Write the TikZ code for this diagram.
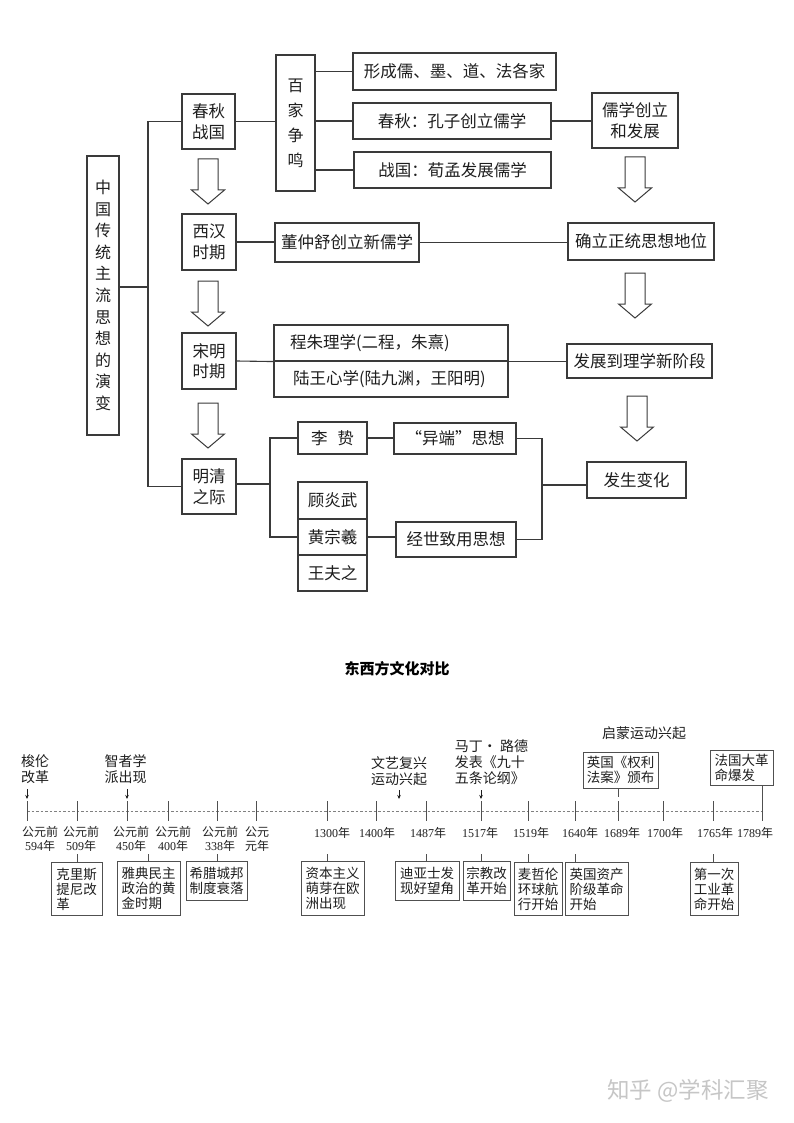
\documentclass[tikz,border=0pt]{standalone}
\usepackage{fontspec}
\setmainfont{Noto Sans CJK SC}
\newfontfamily\lat{Liberation Serif}
\usetikzlibrary{arrows.meta}
\definecolor{lc}{HTML}{3A3A3A}
\definecolor{tc}{HTML}{1E1E1E}
\definecolor{tl}{HTML}{505050}
\newcommand\yr[1]{{\lat #1}年}
\begin{document}
\begin{tikzpicture}[x=1pt,y=-1pt,
  box/.style={draw=lc, line width=1.1pt, text=tc, inner sep=0pt, align=center, font=\fontsize{16.5}{20.5}\selectfont},
  vbox/.style={box, font=\fontsize{16}{21.6}\selectfont},
  link/.style={draw=lc, line width=1.1pt},
  harrow/.pic={\draw[line width=1pt, draw=lc, fill=white] (-10,0) -- (-10,31) -- (-16.5,31) -- (0,45) -- (16.5,31) -- (10,31) -- (10,0) -- cycle;},
  tbox/.style={draw=tl, line width=0.9pt, text=tc, inner sep=0pt, align=left, anchor=north, font=\fontsize{13.5}{15}\selectfont},
  ylab/.style={text=tc, align=center, inner sep=0pt, font=\fontsize{12}{14}\selectfont},
  alab/.style={text=tc, align=left, inner sep=0pt, font=\fontsize{14}{16}\selectfont},
  tick/.style={draw=tl, line width=0.9pt},
  tlink/.style={draw=tl, line width=0.8pt},
  sarrow/.style={draw=tc, line width=0.8pt, -{Stealth[length=4pt,width=3.5pt]}},
  axis/.style={draw=gray, line width=1pt, dash pattern=on 2.5pt off 2pt}]
\useasboundingbox (0,0) rectangle (794,1123);
\fill[white] (0,0) rectangle (794,1123);

% ---------- upper chart ----------
\node[vbox, minimum width=32, minimum height=279] (main) at (103,295.5) {中\\国\\传\\统\\主\\流\\思\\想\\的\\演\\变};
\node[box, minimum width=53, minimum height=55] (cq) at (208.5,121.5) {春秋\\战国};
\node[box, minimum width=54, minimum height=56] (xh) at (209,242) {西汉\\时期};
\node[box, minimum width=54, minimum height=56] (sm) at (209,361) {宋明\\时期};
\node[box, minimum width=54, minimum height=55] (mq) at (209,486.5) {明清\\之际};
\node[box, font=\fontsize{16}{25}\selectfont, minimum width=39, minimum height=136] (bj) at (295.5,123) {百\\家\\争\\鸣};
\node[box, minimum width=203, minimum height=37] (b1) at (454.5,71.5) {形成儒、墨、道、法各家};
\node[box, minimum width=198, minimum height=36] (b2) at (452,121) {春秋：孔子创立儒学};
\node[box, minimum width=197, minimum height=36] (b3) at (452.5,170) {战国：荀孟发展儒学};
\node[box, minimum width=86, minimum height=55] (rx) at (635,120.5) {儒学创立\\和发展};
\node[box, minimum width=144, minimum height=39] (dz) at (347,242.5) {董仲舒创立新儒学};
\node[box, minimum width=146, minimum height=37] (ql) at (641,241.5) {确立正统思想地位};
\node[box, minimum width=234, minimum height=36, text width=202, align=left] (cz) at (391,343) {程朱理学(二程，朱熹)};
\node[box, minimum width=234, minimum height=36, text width=196, align=left] (lw) at (391,379) {陆王心学(陆九渊，王阳明)};
\node[box, minimum width=145, minimum height=34] (fz) at (639.5,361) {发展到理学新阶段};
\node[box, minimum width=99, minimum height=36] (fs) at (636.5,480) {发生变化};
\node[box, minimum width=122, minimum height=31] (yd) at (455,438.5) {“异端”思想};
\node[box, minimum width=120, minimum height=35] (js) at (456,539.5) {经世致用思想};
\node[box, minimum width=69, minimum height=32] (lz) at (332.5,438) {李\hspace{0.6em}贽};
\node[box, minimum width=69, minimum height=37] (gy) at (332.5,500.5) {顾炎武};
\node[box, minimum width=69, minimum height=36] (hz) at (332.5,537) {黄宗羲};
\node[box, minimum width=69, minimum height=36] (wf) at (332.5,573) {王夫之};

\coordinate (j1) at (148,287);
\draw[link] (main.east |- j1) -- (j1);
\draw[link] (cq.west) -| (j1) |- (mq.west);
\draw[link] (cq.east) -- (cq.east -| bj.west);
\draw[link] (b1.west -| bj.east) -- (b1.west);
\draw[link] (b2.west -| bj.east) -- (b2.west);
\draw[link] (b3.west -| bj.east) -- (b3.west);
\draw[link] (b2.east) -- (b2.east -| rx.west);
\draw[link] (xh.east) -- (xh.east -| dz.west);
\draw[link] (dz.east) -- (dz.east -| ql.west);
\draw[link] (sm.east) -- (cz.south west);
\draw[link] (cz.south east) -- (cz.south east -| fz.west);
\coordinate (j2) at (270,484);
\draw[link] (mq.east |- j2) -- (j2);
\draw[link] (lz.west) -| (j2) |- (hz.west);
\draw[link] (lz.east) -- (lz.east -| yd.west);
\draw[link] (hz.east) -- (hz.east -| js.west);
\coordinate (j3) at (542,485);
\draw[link] (yd.east) -| (j3) |- (js.east);
\draw[link] (j3) -- (j3 -| fs.west);

\pic at (208,159) {harrow};
\pic at (208,281) {harrow};
\pic at (208,403) {harrow};
\pic at (635,157) {harrow};
\pic at (635,273) {harrow};
\pic at (637,396) {harrow};

% ---------- timeline ----------
\node[text=black, inner sep=0pt, font=\fontsize{15}{15}\selectfont\bfseries] (title) at (397,669) {东西方文化对比};

\foreach \n/\x in {594/27,509/77,450/127,400/168,338/217,0/256,1300/327,1400/376,1487/426,1517/481,1519/528,1640/575,1689/618,1700/663,1765/713,1789/762}
  \coordinate (t\n) at (\x,811);
\draw[axis] (t594) -- (t1789);
\foreach \n in {594,509,450,400,338,0,1300,1400,1487,1517,1519,1640,1689,1700,1765,1789}
  \draw[tick] ([yshift=10pt]t\n) -- ([yshift=-10pt]t\n);

\node[ylab] (y594) at (40,839) {公元前\\\yr{594}};
\node[ylab] (y509) at (81,839) {公元前\\\yr{509}};
\node[ylab] (y450) at (131,839) {公元前\\\yr{450}};
\node[ylab] (y400) at (173,839) {公元前\\\yr{400}};
\node[ylab] (y338) at (220,839) {公元前\\\yr{338}};
\node[ylab] (y0) at (257,839) {公元\\元年};
\node[ylab] (y1300) at (332,833) {\yr{1300}};
\node[ylab] (y1400) at (377,833) {\yr{1400}};
\node[ylab] (y1487) at (428,833) {\yr{1487}};
\node[ylab] (y1517) at (480,833) {\yr{1517}};
\node[ylab] (y1519) at (531,833) {\yr{1519}};
\node[ylab] (y1640) at (580,833) {\yr{1640}};
\node[ylab] (y1689) at (622,833) {\yr{1689}};
\node[ylab] (y1700) at (665,833) {\yr{1700}};
\node[ylab] (y1765) at (715,833) {\yr{1765}};
\node[ylab] (y1789) at (755,833) {\yr{1789}};

% boxes below
\node[tbox, minimum width=51, minimum height=53] (e509) at (76.5,862) {克里斯\\提尼改\\革};
\node[tbox, minimum width=63, minimum height=54] (e450) at (148.5,861) {雅典民主\\政治的黄\\金时期};
\node[tbox, minimum width=61, minimum height=39] (e338) at (216.5,861) {希腊城邦\\制度衰落};
\node[tbox, minimum width=63, minimum height=54] (e1300) at (332.5,861) {资本主义\\萌芽在欧\\洲出现};
\node[tbox, minimum width=64, minimum height=39] (e1487) at (427,861) {迪亚士发\\现好望角};
\node[tbox, minimum width=47, minimum height=39] (e1517) at (486.5,861) {宗教改\\革开始};
\node[tbox, minimum width=48, minimum height=53] (e1519) at (538,862) {麦哲伦\\环球航\\行开始};
\node[tbox, minimum width=63, minimum height=53] (e1640) at (596.5,862) {英国资产\\阶级革命\\开始};
\node[tbox, minimum width=48, minimum height=53] (e1765) at (714,862) {第一次\\工业革\\命开始};

\draw[tlink] ([yshift=-43pt]t509) -- (t509 |- e509.north);
\draw[tlink] (e450.north) -- ++(0,-7);
\draw[tlink] ([yshift=-43pt]t338) -- (t338 |- e338.north);
\draw[tlink] ([yshift=-43pt]t1300) -- (t1300 |- e1300.north);
\draw[tlink] ([yshift=-43pt]t1487) -- (t1487 |- e1487.north);
\draw[tlink] ([yshift=-43pt]t1517) -- (t1517 |- e1517.north);
\draw[tlink] ([yshift=-43pt]t1519) -- (t1519 |- e1519.north);
\draw[tlink] ([yshift=-43pt]t1640) -- (t1640 |- e1640.north);
\draw[tlink] ([yshift=-43pt]t1765) -- (t1765 |- e1765.north);

% boxes above
\node[tbox, anchor=center, minimum width=75, minimum height=36] (e1689) at (620.5,770) {英国《权利\\法案》颁布};
\node[tbox, anchor=center, minimum width=63, minimum height=35] (e1789) at (741.5,767.5) {法国大革\\命爆发};
\draw[tlink] (t1689 |- e1689.south) -- ([yshift=14pt]t1689);
\draw[tlink] (t1789 |- e1789.south) -- ([yshift=10pt]t1789);

% labels above
\node[alab] (l594) at (35,769.5) {梭伦\\改革};
\node[alab] (l450) at (125.5,769.5) {智者学\\派出现};
\node[alab] (lren) at (399,771) {文艺复兴\\运动兴起};
\node[alab] (l1517) at (491.5,762) {马丁· 路德\\发表《九十\\五条论纲》};
\node[alab] (lqm) at (644,733) {启蒙运动兴起};

\coordinate (a594) at (27,789);
\coordinate (a450) at (127,789);
\coordinate (aren) at (399,790);
\coordinate (a1517) at (481,790);
\draw[sarrow] (a594) -- ([yshift=12pt]t594);
\draw[sarrow] (a450) -- ([yshift=12pt]t450);
\draw[sarrow] (aren) -- ++(0,9);
\draw[sarrow] (a1517) -- ([yshift=12pt]t1517);

\node[text=gray!45, inner sep=0pt, font=\fontsize{22.5}{22.5}\selectfont] (wm) at (688,1091) {知乎 @学科汇聚};
\end{tikzpicture}
\end{document}
